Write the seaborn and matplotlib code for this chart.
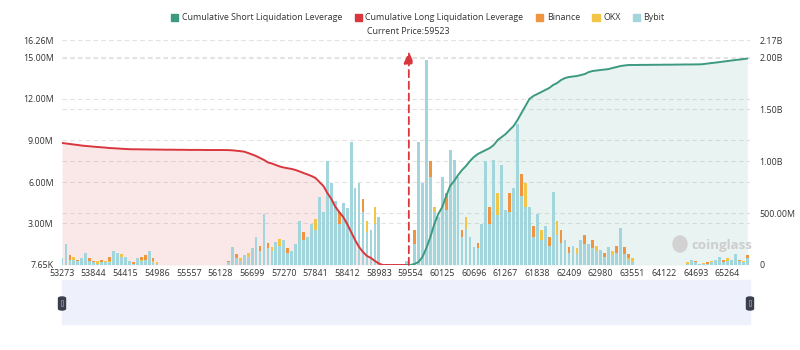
import numpy as np
import pandas as pd
import matplotlib
matplotlib.use("Agg")
import matplotlib.pyplot as plt
import seaborn as sns
from matplotlib.patches import Patch, Rectangle, FancyBboxPatch, Ellipse

# ---------------- data ----------------
tick_labels = ["53273", "53844", "54415", "54986", "55557", "56128", "56699", "57270",
               "57841", "58412", "58983", "59554", "60125", "60696", "61267", "61838",
               "62409", "62980", "63551", "64122", "64693", "65264"]
levels_per_tick = 8
current_price = 59523

# liquidation per price level (millions USD), one value per level
binance = [0.3,0.4,0.7,0.3,0.4,0.2,0.5,0.5,0.3,0.2,0.4,0.1,0.6,0.4,0.5,0.3,0.3,0.1,0.2,0.2,0.6,0.7,0.5,0.5,0.1,
           0,0,0,0,0,0,0,0,0,0,0,0,0,0,0,0,0,
           0.3,0.6,0.8,0.3,0.4,0.5,0.6,1.0,1.4,0.9,1.6,0.7,0.8,1.0,0.9,1.2,0.6,0.7,1.2,2.4,1.0,1.4,1.5,1.8,
           1.9,2.5,2.4,1.9,3.8,2.0,2.2,2.6,2.4,2.5,4.8,1.8,1.6,1.7,1.5,
           0,0,0,0,0,0,0.1,0,
           2.5,2.0,2.4,3.0,7.5,2.4,1.8,2.6,5.2,3.1,2.8,2.2,2.5,1.6,1.2,0.8,1.6,1.4,2.6,4.2,2.8,2.2,2.6,1.8,
           5.2,2.4,3.2,6.6,2.5,1.9,2.8,1.5,1.2,1.3,2.0,1.8,1.4,2.5,1.0,1.3,0.6,0.7,0.8,2.2,0.7,1.8,0.6,0.5,
           0.9,0.6,0.5,1.4,0.9,1.3,0.8,0.3,
           0,0,0,0,0,0,0,0,0,0,0,0,0,
           0.1,0.2,0.3,0.1,0.1,0.2,0.1,0.2,0.3,0.4,0.2,0.1,0.4,0.4,0.1,0.7]
okx = [0.2,0.3,0.3,0.6,0.2,0.3,0.4,0.3,0.2,0.3,0.2,0.3,0.3,0.5,0.4,0.8,0.2,0.2,0.1,0.1,0.4,0.3,0.4,0.3,0.2,
       0,0,0,0,0,0,0,0,0,0,0,0,0,0,0,0,0,
       0.2,0.4,0.3,0.5,0.3,0.9,0.5,0.8,0.6,0.7,0.8,1.3,0.6,1.9,0.7,0.5,0.4,0.6,1.0,1.1,0.9,1.2,3.3,1.5,
       1.4,2.0,1.8,1.6,1.5,1.7,1.8,2.2,2.0,2.3,1.6,3.2,1.2,4.2,1.2,
       0,0,0,0,0,0,0.1,0,
       1.0,1.6,1.9,2.5,3.0,4.2,1.5,3.0,2.0,2.6,2.4,2.0,1.4,3.5,1.0,0.9,0.8,1.2,2.0,1.8,2.4,5.2,2.2,1.6,
       2.0,2.2,2.8,2.6,5.9,1.6,1.2,1.4,2.5,1.0,0.8,1.5,3.2,1.0,0.8,0.6,0.5,1.2,0.6,0.9,0.6,0.8,1.4,0.4,
       0.4,0.5,1.0,0.6,0.8,0.7,0.5,0.5,
       0,0,0,0,0,0,0,0,0,0,0,0,0,
       0.2,0.1,0.1,0.1,0.15,0.1,0.3,0.1,0.2,0.2,0.5,0.2,0.3,0.2,0.3,0.3]
bybit = [0.5,1.5,0.4,0.4,0.3,0.5,0.9,0.3,0.2,0.1,0.2,0.2,0.2,1.0,0.9,0.6,0.6,0.3,0.1,0.5,0.3,0.4,1.0,0.2,0.1,
         0,0,0,0,0,0,0,0,0,0,0,0,0,0,0,0,0,
         0.2,1.3,0.5,0.3,0.7,0.6,1.2,2.0,1.0,3.7,1.2,1.0,1.7,1.4,1.8,0.9,1.0,1.5,3.2,1.8,2.0,3.0,2.5,4.9,
         3.8,7.5,5.9,4.6,3.0,4.5,4.1,8.9,5.6,5.9,3.8,2.4,2.5,3.0,3.5,
         0,0,0,0,0,0,0.3,0,
         1.5,8.9,5.9,14.8,6.4,3.8,3.5,6.4,4.0,8.3,7.6,6.4,2.0,2.6,2.0,1.3,1.2,3.0,7.5,3.0,7.6,3.6,7.2,4.0,
         3.8,5.6,10.2,5.0,4.2,4.2,2.0,3.7,1.8,2.8,1.4,5.3,2.2,1.6,1.8,0.9,1.4,0.8,1.8,1.5,1.5,1.2,1.0,1.1,
         0.6,1.3,0.7,0.9,2.7,0.8,0.4,0.2,
         0,0,0,0,0,0,0,0,0,0,0,0,0,
         0.1,0.4,0.2,0.05,0.1,0.1,0.2,0.35,0.6,0.2,0.3,0.35,0.8,0.3,0.2,0.5]

# cumulative leverage (billions USD)
long_cum = [1.177,1.172,1.167,1.162,1.157,1.152,1.148,1.145,1.141,1.138,1.135,1.132,1.128,1.126,1.124,1.121,
            1.119,1.117,1.116,
            1.116,1.115,1.115,1.114,1.114,1.113,1.113,1.112,1.112,1.112,1.111,1.111,1.111,1.110,1.110,1.110,
            1.110,1.109,1.109,1.109,1.109,1.109,1.109,
            1.108,1.106,1.102,1.098,1.093,1.080,1.066,1.051,1.032,1.013,0.989,0.979,0.964,0.950,0.940,0.933,
            0.926,0.916,0.902,0.887,0.873,0.858,0.839,0.800,0.762,0.694,0.637,0.562,0.511,0.463,0.395,0.318,
            0.241,0.174,0.125,0.087,0.068,0.039,0.014,
            0,0,0,0,0,0,0]
short_start = 87
short_cum = [0,0,0.010,0.029,0.077,0.164,0.270,0.395,0.492,0.559,0.665,0.762,0.810,0.868,0.916,0.955,1.003,
             1.042,1.071,1.090,1.109,1.128,1.157,1.205,1.234,1.263,1.302,1.340,1.398,1.466,1.533,1.601,1.630,
             1.649,1.668,1.688,1.707,1.736,1.755,1.784,1.803,1.813,1.818,1.823,1.832,1.842,1.861,1.871,1.876,
             1.881,1.885,1.890,1.900,1.909,1.919,1.924,1.929,
             1.929,1.929,1.930,1.930,1.930,1.931,1.931,1.931,1.932,1.932,1.932,
             1.933,1.933,1.934,1.934,1.934,1.935,1.935,
             1.938,1.943,1.948,1.952,1.957,1.962,1.967,1.972,1.977,1.981,1.986,1.991]

left_ticks = [0.00765, 3, 6, 9, 12, 15, 16.26]
left_tick_labels = ["7.65K", "3.00M", "6.00M", "9.00M", "12.00M", "15.00M", "16.26M"]
right_ticks = [0, 0.5, 1.0, 1.5, 2.0, 2.17]
right_tick_labels = ["0", "500.00M", "1.00B", "1.50B", "2.00B", "2.17B"]

# ---------------- style ----------------
sns.set_theme(style="white")
plt.rcParams["font.family"] = ["Open Sans", "DejaVu Sans"]

C_SHORT = "#3d9a80"
C_LONG = "#d9363e"
C_BIN = "#ef9440"
C_OKX = "#f3c547"
C_BYB = "#a2d5dc"
TXT = "#333333"
GRID = "#e3e3e3"
FS = 6.4

W, H = 800, 350
fig = plt.figure(figsize=(8, 3.5), dpi=100)
fig.patch.set_facecolor("white")
L, R, T, B = 62, 750, 40, 265
pos = [L / W, 1 - B / H, (R - L) / W, (B - T) / H]

ax = fig.add_axes(pos)          # bars (left scale, millions)
ax_fill = ax.twinx()            # fills (right scale)
ax_line = ax.twinx()            # lines (right scale)

ax_fill.set_zorder(1)
ax.set_zorder(2)
ax_line.set_zorder(3)
ax.patch.set_visible(False)
ax_line.patch.set_visible(False)
ax_fill.patch.set_facecolor("white")

n = len(binance)
idx = np.arange(n).astype(float)
for vals, col in ((binance, C_BIN), (okx, C_OKX), (bybit, C_BYB)):
    sns.histplot(x=idx, weights=np.asarray(vals, dtype=float), binwidth=1,
                 binrange=(-0.5, n - 0.5), color=col, alpha=1.0, linewidth=0,
                 shrink=0.7, ax=ax)

# cumulative curves
long_idx = np.arange(len(long_cum))
short_idx = np.arange(len(short_cum)) + short_start
ax_fill.fill_between(long_idx, long_cum, color=C_LONG, alpha=0.11, linewidth=0)
ax_fill.fill_between(short_idx, short_cum, color=C_SHORT, alpha=0.11, linewidth=0)
sns.lineplot(x=long_idx, y=long_cum, ax=ax_line, color=C_LONG, linewidth=1.4)
sns.lineplot(x=short_idx, y=short_cum, ax=ax_line, color=C_SHORT, linewidth=1.4)

# axes limits & ticks
step = (int(tick_labels[1]) - int(tick_labels[0])) / levels_per_tick
XMAX = 173.7
ax.set_xlim(0, XMAX)
ax.set_ylim(left_ticks[0], left_ticks[-1])
ax.set_yticks(left_ticks)
ax.set_yticklabels(left_tick_labels)
ax.set_xticks(np.arange(0, levels_per_tick * len(tick_labels), levels_per_tick))
ax.set_xticklabels(tick_labels)
ax.set_xlabel("")
ax.set_ylabel("")
ax.tick_params(axis="both", length=0, labelsize=FS, colors=TXT)
ax.tick_params(axis="y", pad=6)
ax.tick_params(axis="x", pad=3)

for a in (ax_fill, ax_line):
    a.set_ylim(right_ticks[0], right_ticks[-1])
    a.set_xlim(0, XMAX)
ax_fill.set_yticks(right_ticks)
ax_fill.set_yticklabels(right_tick_labels)
ax_fill.tick_params(axis="y", length=0, labelsize=FS, colors=TXT, pad=7)
ax_line.set_yticks([])
ax_line.set_ylabel("")
ax_fill.set_ylabel("")

# grids (dashed)
ax_fill.yaxis.grid(True, linestyle=(0, (4, 3)), color=GRID, linewidth=0.8)
ax_fill.set_axisbelow(True)
for yv in left_ticks[1:]:
    ax_fill.axhline(yv / left_ticks[-1] * right_ticks[-1], color=GRID,
                    linestyle=(0, (4, 3)), linewidth=0.8, zorder=0)
ax.grid(False)
ax_line.grid(False)

for a in (ax, ax_fill, ax_line):
    for s in a.spines.values():
        s.set_visible(False)

# current price marker
cur_idx = (current_price - int(tick_labels[0])) / step
ax_line.annotate("", xy=(cur_idx, 0.95), xycoords=("data", "axes fraction"),
                 xytext=(cur_idx, 0.0), textcoords=("data", "axes fraction"),
                 arrowprops=dict(arrowstyle="-|>,head_length=0.6,head_width=0.25",
                                 color=C_LONG, lw=1.3, linestyle=(0, (4, 2.5)),
                                 shrinkA=0, shrinkB=0))
fig.text(408 / W, 1 - 31 / H, f"Current Price:{current_price}", ha="center", va="center",
         fontsize=FS, color=TXT)

# legend
handles = [Patch(color=C_SHORT, label="Cumulative Short Liquidation Leverage"),
           Patch(color=C_LONG, label="Cumulative Long Liquidation Leverage"),
           Patch(color=C_BIN, label="Binance"),
           Patch(color=C_OKX, label="OKX"),
           Patch(color=C_BYB, label="Bybit")]
fig.legend(handles=handles, loc="center", bbox_to_anchor=(418 / W, 1 - 18 / H), ncol=5,
           frameon=False, fontsize=FS, handlelength=0.8, handleheight=0.8,
           handletextpad=0.4, columnspacing=1.4, labelcolor=TXT)

# watermark
fig.patches.append(Ellipse((680 / W, 1 - 244 / H), 14 / W, 16 / H, transform=fig.transFigure,
                           color="#d2d2d2", zorder=10))
fig.text(691 / W, 1 - 245 / H, "coinglass", ha="left", va="center", fontsize=9.5,
         fontweight="bold", color="#cdcdcd", zorder=10)

# bottom data-zoom slider
fig.patches.append(Rectangle((L / W, 1 - 324 / H), (R - L) / W, 44 / H,
                             transform=fig.transFigure, color="#eef1fb", zorder=0))
for hx in (L, R):
    fig.patches.append(FancyBboxPatch(((hx - 3.5) / W, 1 - 310 / H), 7 / W, 13 / H,
                                      boxstyle="round,pad=0,rounding_size=0.004",
                                      transform=fig.transFigure, color="#3b3e4c", zorder=5))
    fig.patches.append(Rectangle(((hx - 1) / W, 1 - 306 / H), 2 / W, 6 / H,
                                 transform=fig.transFigure, facecolor="none",
                                 edgecolor="#9a9cab", linewidth=0.5, zorder=6))

fig.savefig("out.png", dpi=100, facecolor="white")
